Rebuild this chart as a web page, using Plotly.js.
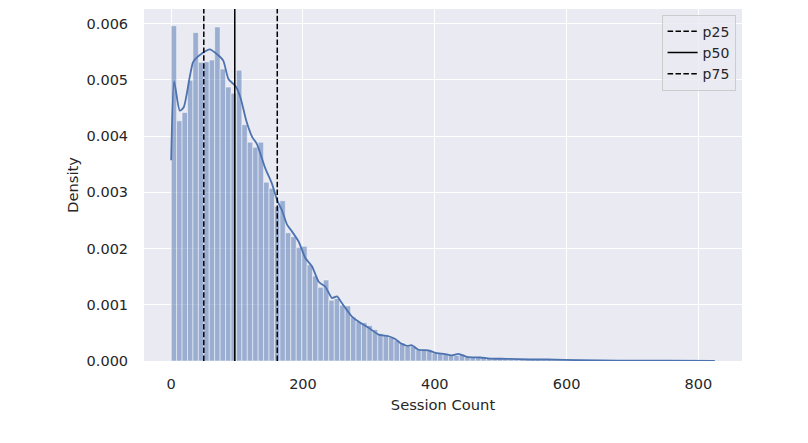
<!DOCTYPE html>
<html>
<head>
<meta charset="utf-8">
<script src="https://cdn.plot.ly/plotly-3.0.1.min.js"></script>
<style>
html,body{margin:0;padding:0;background:#fff;}
#chart{width:808px;height:443px;}
</style>
</head>
<body>
<div id="chart"></div>
<script>
// Histogram (density) — 100 bins from 0 to 825
const binStart = 0;
const binWidth = 8.25;
const histDensity = [
  0.00596, 0.00427, 0.00442, 0.00499, 0.00584, 0.00531, 0.00532, 0.00535, 0.00594, 0.00519,
  0.00487, 0.00476, 0.00517, 0.00420, 0.00389, 0.00380, 0.00389, 0.00318, 0.00307, 0.00275,
  0.00285, 0.00228, 0.00221, 0.00202, 0.00204, 0.00171, 0.00151, 0.00131, 0.00144, 0.00108,
  0.00111, 0.00099, 0.00098, 0.00078, 0.00070, 0.00068, 0.00063, 0.00056, 0.00049, 0.00047,
  0.00042, 0.00037, 0.00032, 0.00026, 0.00027, 0.00020, 0.00019, 0.00020, 0.00014, 0.00014,
  0.000115, 0.00010, 0.00010, 0.00012, 0.000074, 0.000062, 0.00006, 0.00006, 0.000044, 0.000044,
  0.00004, 0.00004, 0.000035, 0.000035, 0.00003, 0.000028, 0.000025, 0.000027, 0.00002, 0.000022,
  0.000018, 0.00002, 0.000015, 0.000014, 0.000016, 0.000012, 0.00001, 0.000011, 0.000009, 0.00001,
  0.000008, 0.000007, 0.000008, 0.000006, 0.000005, 0.000006, 0.000005, 0.000004, 0.000004, 0.000003,
  0.000004, 0.000003, 0.000002, 0.000003, 0.000002, 0.000002, 0.000001, 0.000002, 0.000001, 0.000002
];

// KDE curve
const kdeX = [0, 4.5, 13, 19, 28, 33, 37, 47, 58.5, 70, 79, 87, 97.5, 105, 114, 123, 130, 143, 153,
  160.7, 168, 176, 183.5, 193.5, 203.6, 213.8, 223.8, 234, 244, 251.7, 259, 274.4, 287, 299.6, 314.7,
  330, 340, 347.6, 357.8, 365.4, 375.4, 390.5, 400.7, 410.9, 426, 436, 448.8, 469, 484, 509, 545, 570,
  620, 680, 750, 825];
const kdeY = [0.00357, 0.00497, 0.00445, 0.00451, 0.00504, 0.00531, 0.00537, 0.00547, 0.00554, 0.00545,
  0.00534, 0.00501, 0.00489, 0.00469, 0.00427, 0.00398, 0.00386, 0.00342, 0.00315,
  0.00286, 0.00268, 0.00242, 0.00230, 0.00212, 0.00183, 0.00168, 0.00141, 0.00132, 0.00112, 0.00115,
  0.00103, 0.00079, 0.00068, 0.00059, 0.00047,
  0.00044, 0.00039, 0.00032, 0.00027, 0.00028, 0.00020, 0.00019, 0.000145, 0.000133, 0.00010, 0.000127,
  0.000074, 0.000062, 0.000044, 0.000039, 0.000027, 0.000027,
  0.000014, 0.000008, 0.000005, 0.000003];

// Percentiles
const pctNames = ["p25", "p50", "p75"];
const pctValues = [49.5, 96.5, 161];
const pctDash = ["5.5px,2.4px", "solid", "5.5px,2.4px"];

// Axis ticks
const xTicks = [0, 200, 400, 600, 800];
const yTicks = [0, 0.001, 0.002, 0.003, 0.004, 0.005, 0.006];

const yTop = Math.max(...histDensity) * 1.05;
const xMin = binStart, xMax = binStart + binWidth * histDensity.length;
const xPad = (xMax - xMin) * 0.05;

const binCenters = histDensity.map((_, i) => binStart + (i + 0.5) * binWidth);

const traces = [];
traces.push({
  type: 'bar',
  x: binCenters,
  y: histDensity,
  width: binWidth,
  marker: {color: 'rgba(76,114,176,0.5)', line: {color: 'rgba(255,255,255,0.6)', width: 0.8}},
  showlegend: false,
  hoverinfo: 'skip'
});
traces.push({
  type: 'scatter', mode: 'lines',
  x: kdeX, y: kdeY,
  line: {color: '#4C72B0', width: 1.8, shape: 'spline', smoothing: 0.6},
  showlegend: false,
  hoverinfo: 'skip'
});
pctNames.forEach((n, i) => {
  traces.push({
    type: 'scatter', mode: 'lines',
    x: [pctValues[i], pctValues[i]],
    y: [0, yTop],
    name: n,
    line: {color: '#000000', width: 1.5, dash: pctDash[i]},
    cliponaxis: true
  });
});

const textColor = '#262626';
const layout = {
  width: 808, height: 443,
  paper_bgcolor: '#ffffff',
  plot_bgcolor: '#EAEAF2',
  margin: {l: 144, r: 66, t: 9, b: 82, pad: 0},
  font: {family: 'DejaVu Sans, sans-serif', size: 14, color: textColor},
  bargap: 0,
  showlegend: true,
  legend: {
    x: 0.9893, y: 0.984, xanchor: 'right', yanchor: 'top',
    bgcolor: 'rgba(234,234,242,0.8)',
    bordercolor: '#CCCCCC', borderwidth: 1,
    font: {size: 14, color: textColor},
    traceorder: 'normal'
  },
  xaxis: {
    range: [xMin - xPad, xMax + xPad],
    tickvals: xTicks,
    ticktext: xTicks.map(String),
    showgrid: true, gridcolor: '#ffffff', gridwidth: 1,
    zeroline: false, showline: false,
    ticks: 'outside', ticklen: 10, tickcolor: 'rgba(0,0,0,0)',
    tickfont: {size: 14.5, color: textColor},
    title: {text: 'Session Count', font: {size: 14.7, color: textColor}, standoff: 8}
  },
  yaxis: {
    range: [0, yTop],
    tickvals: yTicks,
    ticktext: yTicks.map(v => v.toFixed(3)),
    showgrid: true, gridcolor: '#ffffff', gridwidth: 1,
    zeroline: false, showline: false,
    ticks: 'outside', ticklen: 12, tickcolor: 'rgba(0,0,0,0)',
    tickfont: {size: 14.5, color: textColor},
    title: {text: 'Density', font: {size: 14.7, color: textColor}, standoff: 4}
  }
};

Plotly.newPlot('chart', traces, layout, {displayModeBar: false, staticPlot: true});
</script>
</body>
</html>
